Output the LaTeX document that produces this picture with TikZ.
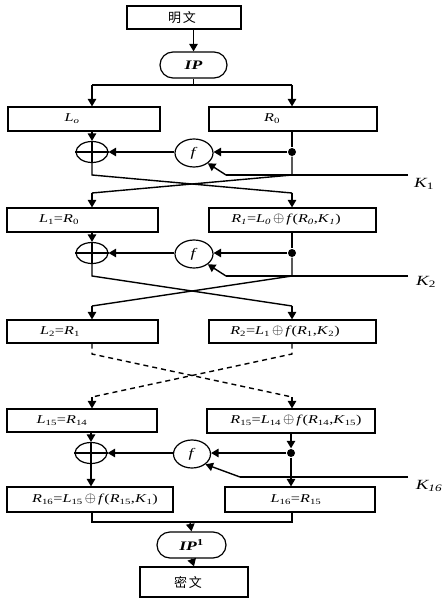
\documentclass[tikz,border=0pt]{standalone}
\usepackage{fontspec}
\setmainfont[FakeStretch=1.35]{Liberation Serif}
\newfontfamily\cjk{Noto Sans CJK SC}
\usetikzlibrary{arrows.meta,shapes.geometric,shapes.misc}
\newcommand{\vs}[2]{\textit{#1}\textsubscript{#2}}
\newcommand{\xo}{\,{\fontsize{15}{15}\selectfont$\oplus$}\,}
\begin{document}
\begin{tikzpicture}[x=1pt,y=-1pt,line width=1.4pt,
  box/.style={draw,rectangle,inner sep=0pt,line width=1.2pt},
  pill/.style={draw,rounded rectangle,inner sep=0pt,line width=1.2pt},
  oval/.style={draw,ellipse,inner sep=0pt,line width=1.2pt},
  dotn/.style={circle,fill,inner sep=0pt,minimum size=8pt},
  lbl/.style={inner sep=0pt,font=\fontsize{12}{14}\selectfont},
  klbl/.style={inner sep=0pt,font=\fontsize{14}{16}\selectfont\itshape},
  arr/.style={-{Triangle[length=7.5pt,width=8.5pt]}},
  dashln/.style={dash pattern=on 5pt off 4pt}
]
\useasboundingbox (0,0) rectangle (446,601);
\coordinate (cl) at (92,0);
\coordinate (cr) at (292,0);
% boxes
\node[box,minimum width=114pt,minimum height=23pt] (ming) at (184,17.5) {};
\node[lbl,font=\fontsize{13}{15}\selectfont\cjk] at (182,17.5) {明\hspace{2pt}文};
\node[pill,minimum width=67pt,minimum height=26pt] (ip) at (193.5,65) {\fontsize{13}{15}\selectfont\textbf{\textit{IP}}};
\node[box,minimum width=152pt,minimum height=24pt] (L0) at (84,119) {};
\node[box,minimum width=168pt,minimum height=24pt] (R0) at (293,119) {};
\node[box,minimum width=151pt,minimum height=24pt] (L1) at (82.5,220) {};
\node[box,minimum width=167pt,minimum height=24pt] (R1) at (292.5,220) {};
\node[box,minimum width=151pt,minimum height=23pt] (L2) at (82.5,331.5) {};
\node[box,minimum width=167pt,minimum height=23pt] (R2) at (292.5,331.5) {};
\node[box,minimum width=150pt,minimum height=23pt] (L15) at (82,420.5) {};
\node[box,minimum width=168pt,minimum height=24pt] (R15) at (291,421) {};
\node[box,minimum width=166pt,minimum height=25pt] (R16) at (90,499.5) {};
\node[box,minimum width=150pt,minimum height=25pt] (L16) at (300,499.5) {};
\node[pill,minimum width=69pt,minimum height=26pt] (ipi) at (191.5,545) {\fontsize{13}{15}\selectfont\textbf{\textit{IP}}\textsuperscript{\textbf{1}}};
\node[box,minimum width=108pt,minimum height=30pt] (mi) at (194,582) {};
\node[lbl,font=\fontsize{13}{15}\selectfont\cjk] at (188,582) {密\hspace{2pt}文};
% box labels
\node[lbl] at (72,119) {\vs{L}{\textit{o}}};
\node[lbl] at (272,119) {\vs{R}{0}};
\node[lbl] at (59,220) {\vs{L}{1}=\vs{R}{0}};
\node[lbl] at (286,220) {\vs{R}{\textit{1}}=\vs{L}{\textit{0}}\xo\textit{f}(\vs{R}{\textit{0}},\vs{K}{\textit{1}})};
\node[lbl] at (60,331.5) {\vs{L}{2}=\vs{R}{1}};
\node[lbl] at (285,331.5) {\vs{R}{2}=\vs{L}{1}\xo\textit{f}(\vs{R}{1},\vs{K}{2})};
\node[lbl] at (62,420.5) {\vs{L}{15}=\vs{R}{14}};
\node[lbl] at (296,421) {\vs{R}{15}=\vs{L}{14}\xo\textit{f}(\vs{R}{14},\vs{K}{15})};
\node[lbl] at (95,499.5) {\vs{R}{16}=\vs{L}{15}\xo\textit{f}(\vs{R}{15},\vs{K}{1})};
\node[lbl] at (296,499.5) {\vs{L}{16}=\vs{R}{15}};
% key labels
\node[klbl] (k1) at (424,184) {K\textsubscript{\upshape 1}};
\node[klbl] (k2) at (426,282) {K\textsubscript{\upshape 2}};
\node[klbl] (k16) at (429,486) {K\textsubscript{16}};
% xor, f, dots
\foreach \n/\x/\y in {x1/92/152, x2/92/253, x15/91/453}{
  \node[oval,minimum width=32pt,minimum height=21pt] (\n) at (\x,\y) {};
  \draw[line width=1.2pt] (\n.north) -- (\n.south) (\n.west) -- (\n.east);
}
\node[oval,minimum width=38pt,minimum height=28pt] (f1) at (194,153) {\fontsize{13}{15}\selectfont\textit{f}};
\node[oval,minimum width=38pt,minimum height=28pt] (f2) at (194,254) {\fontsize{13}{15}\selectfont\textit{f}};
\node[oval,minimum width=37pt,minimum height=28pt] (f15) at (192,454) {\fontsize{13}{15}\selectfont\textit{f}};
\node[dotn] (d1) at (292,152) {};
\node[dotn] (d2) at (292,253) {};
\node[dotn] (d15) at (291,453) {};
% top
\draw[arr] (ip |- ming.south) -- (ip.north);
\draw (ip.south) -- (ip.south |- 0,85);
\draw (92,85) -- (292,85);
\draw[arr] (92,85) -- (cl |- L0.north);
\draw[arr] (292,85) -- (cr |- R0.north);
% round 1
\draw[arr] (cl |- L0.south) -- (x1.north);
\draw (cr |- R0.south) -- (d1);
\draw[arr] (d1) -- (d1 -| f1.east);
\draw[arr] (x1 -| f1.west) -- (x1.east);
\draw (408,175) -- (226,175);
\draw[arr] (226,175) -- (f1.south east);
\draw (x1.south) -- (92,175) -- (292,193);
\draw[arr] (292,193) -- (cr |- R1.north);
\draw (d1) -- (292,175) -- (92,193);
\draw[arr] (92,193) -- (cl |- L1.north);
% round 2
\draw[arr] (cl |- L1.south) -- (x2.north);
\draw (cr |- R1.south) -- (d2);
\draw[arr] (d2) -- (d2 -| f2.east);
\draw[arr] (x2 -| f2.west) -- (x2.east);
\draw (408,276) -- (226,276);
\draw[arr] (226,276) -- (f2.south east);
\draw (x2.south) -- (92,276) -- (292,306);
\draw[arr] (292,306) -- (cr |- R2.north);
\draw (d2) -- (292,276) -- (92,306);
\draw[arr] (92,306) -- (cl |- L2.north);
% dashed skip
\draw[dashln] (cl |- L2.south) -- (92,354) -- (292,397);
\draw[dashln,arr] (292,397) -- (cr |- R15.north);
\draw[dashln] (cr |- R2.south) -- (292,354) -- (92,397);
\draw[dashln,arr] (92,397) -- (cl |- L15.north);
% round 15
\draw[arr] (91,0 |- L15.south) -- (x15.north);
\draw[arr] (291,0 |- R15.south) -- (d15.north);
\draw[arr] (d15) -- (d15 -| f15.east);
\draw[arr] (x15 -| f15.west) -- (x15.east);
\draw (408,477) -- (240,477);
\draw[arr] (240,477) -- (f15.south east);
\draw[arr] (x15.south) -- (91,0 |- R16.north);
\draw[arr] (d15) -- (291,0 |- L16.north);
% bottom
\draw (92,0 |- R16.south) -- (92,522) -- (292,522) -- (292,0 |- L16.south);
\draw[arr] (190,522) -- (ipi.north);
\draw[arr] (ipi.south) -- (mi.north);
\end{tikzpicture}
\end{document}
